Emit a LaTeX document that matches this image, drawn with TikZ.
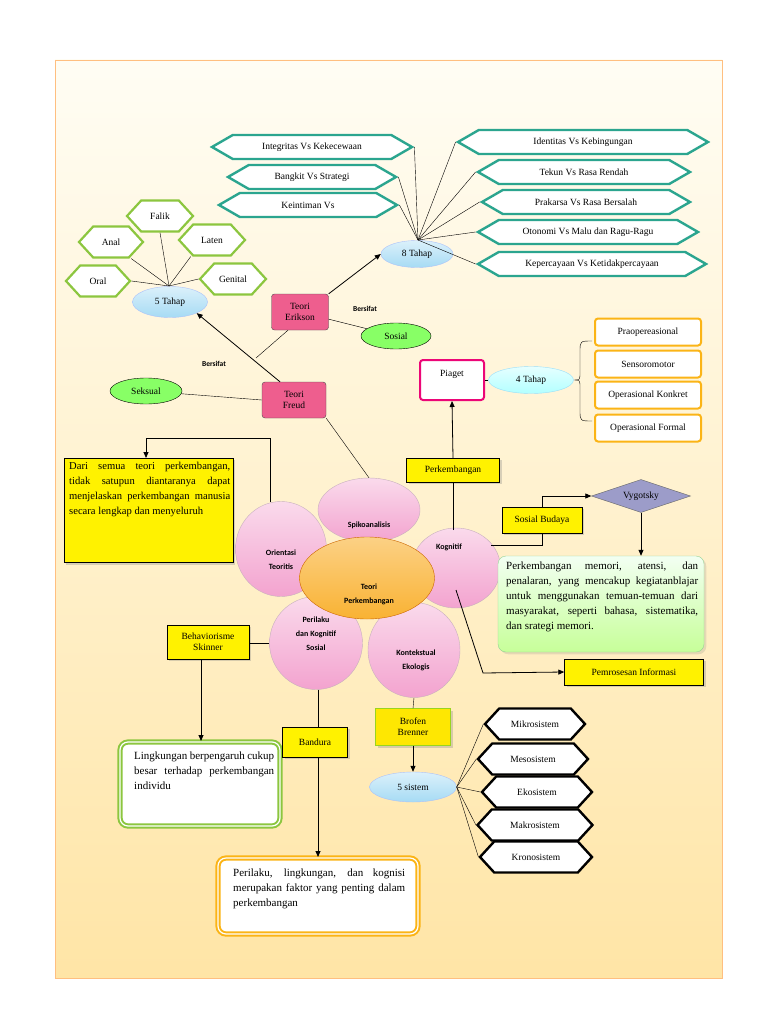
\documentclass[tikz,border=0pt]{standalone}
\usepackage{fontspec}
\setmainfont{Liberation Serif}
\newfontfamily\petalfont{Carlito}
\usetikzlibrary{shapes.geometric,shapes.symbols,arrows.meta,decorations.pathreplacing,shadows}
\definecolor{teal1}{HTML}{2BA58F}
\definecolor{grn1}{HTML}{8CC63F}
\definecolor{pinkbox}{HTML}{EE5E8E}
\definecolor{petal}{HTML}{F3A3CF}
\definecolor{orng}{HTML}{F9B233}
\definecolor{lblue}{HTML}{A6DBF4}
\definecolor{obox}{HTML}{FBB416}
\definecolor{bgtop}{HTML}{FFFDF4}
\definecolor{bgbot}{HTML}{FFE5A6}
\begin{document}
\lefthyphenmin=64 \righthyphenmin=64
\begin{tikzpicture}[x=1pt,y=-1pt,
  every node/.style={font=\fontsize{9.5}{11}\selectfont},
  hexT/.style={signal,signal to=east and west,signal pointer angle=60,draw=teal1,line width=2.4pt,fill=white,minimum height=24pt,inner sep=0},
  hexG/.style={signal,signal to=east and west,signal pointer angle=95,draw=grn1,line width=2.2pt,fill=white,minimum height=31pt,inner sep=0},
  hexK/.style={signal,signal to=east and west,signal pointer angle=95,draw=black,line width=2.4pt,fill=white,minimum height=31pt,inner sep=0},
  blueell/.style={ellipse,draw=lblue!70!blue!60,top color=lblue!40,bottom color=lblue,inner sep=0},
  greenell/.style={ellipse,draw=black,fill=green!70!lime!60,inner sep=0,minimum width=70pt,minimum height=26pt},
  pbox/.style={rectangle,rounded corners=3pt,draw=black!70,fill=pinkbox,align=center,minimum width=57pt,minimum height=36pt,inner sep=1pt},
  ybox/.style={rectangle,draw=black,fill=yellow,align=center,inner sep=1pt,drop shadow={opacity=0.3}},
  orbox/.style={rectangle,rounded corners=3pt,draw=obox,line width=2pt,fill=white,minimum width=106pt,minimum height=27pt},
  petalS/.style={ellipse,draw=petal!60!black!50,top color=petal!40,bottom color=petal,inner sep=0},
  ptxt/.style={font=\petalfont\bfseries\fontsize{8}{14}\selectfont,align=center},
  para/.style={font=\fontsize{11}{15}\selectfont,align=justify,inner sep=0},
  arr/.style={-{Triangle[length=6pt,width=5pt]},thick},
  ln/.style={black,thin}]
\useasboundingbox (0,0) rectangle (768,1024);
\fill[white] (0,0) rectangle (768,1024);
\shade[top color=bgtop,bottom color=bgbot,draw=orange!50] (55,60) rectangle (722,978);

% teal hexagons
\node[hexT,minimum width=200pt] (h1) at (312,147) {Integritas Vs Kekecewaan};
\node[hexT,minimum width=168pt] (h2) at (312,177) {Bangkit Vs Strategi};
\node[hexT,minimum width=178pt] (h3) at (308,205) {Keintiman Vs};
\node[hexT,minimum width=250pt] (h4) at (583,142) {Identitas Vs Kebingungan};
\node[hexT,minimum width=212pt] (h5) at (584,172) {Tekun Vs Rasa Rendah};
\node[hexT,minimum width=208pt] (h6) at (586,202) {Prakarsa Vs Rasa Bersalah};
\node[hexT,minimum width=220pt] (h7) at (588,232) {Otonomi Vs Malu dan Ragu-Ragu};
\node[hexT,minimum width=228pt] (h8) at (592,264) {Kepercayaan Vs Ketidakpercayaan};
\node[blueell,minimum width=72pt,minimum height=27pt] (t8) at (417,254) {8 Tahap};
\coordinate (hub8) at (418,240);
\foreach \h in {h1,h2,h3} \draw[ln] (hub8) -- (\h.east);
\foreach \h in {h4,h5,h6,h7,h8} \draw[ln] (hub8) -- (\h.west);

% green hexagons
\node[hexG,minimum width=66pt] (falik) at (160,216) {Falik};
\node[hexG,minimum width=64pt] (anal) at (111,242) {Anal};
\node[hexG,minimum width=66pt] (laten) at (212,240) {Laten};
\node[hexG,minimum width=64pt] (oral) at (98,281) {Oral};
\node[hexG,minimum width=66pt] (genital) at (233,279) {Genital};
\node[blueell,minimum width=75pt,minimum height=31pt] (t5) at (170,302) {5 Tahap};
\coordinate (hub5) at (169,286);
\draw[ln] (hub5) -- (falik.south);
\draw[ln] (hub5) -- ([xshift=2pt]anal.south east);
\draw[ln] (hub5) -- ([xshift=-2pt]laten.south west);
\draw[ln] (hub5) -- (oral.east);
\draw[ln] (hub5) -- (genital.west);

% Erikson / Freud
\node[pbox] (erik) at (300,312) {Teori\\Erikson};
\node[greenell] (sosial) at (396,336) {Sosial};
\node[font=\petalfont\bfseries\fontsize{7.5}{8}\selectfont] (b1) at (365,309) {Bersifat};
\draw[ln] (erik) -- (sosial);
\draw[arr] (erik.north east) -- (t8.west);
\node[pbox,minimum width=64pt] (freud) at (294,400) {Teori\\Freud};
\node[greenell,minimum width=72pt] (seks) at (146,391) {Seksual};
\node[font=\petalfont\bfseries\fontsize{7.5}{8}\selectfont] (b2) at (214,364) {Bersifat};
\draw[ln] (seks) -- (freud.west);
\draw[arr] ([xshift=-14pt]freud.north) -- (t5.south east);
\coordinate (jn) at (256,358);
\draw[ln] (jn) -- ([xshift=-12pt]erik.south);

% Piaget
\node[rectangle,rounded corners=3pt,draw=magenta!80!red,line width=2pt,fill=white,minimum width=64pt,minimum height=40pt,text depth=14pt] (piaget) at (452,380) {Piaget};
\node[ellipse,draw=cyan!40,top color=cyan!10,bottom color=cyan!30,minimum width=85pt,minimum height=27pt,inner sep=0] (t4) at (531,380) {4 Tahap};
\draw[ln] (piaget) -- (t4);
\node[orbox] (o1) at (648,332) {Praopereasional};
\node[orbox] (o2) at (648,364) {Sensoromotor};
\node[orbox] (o3) at (648,395) {Operasional Konkret};
\node[orbox] (o4) at (648,428) {Operasional Formal};
\draw[ln] (592,341) .. controls (580,341) .. (580,352) -- (580,372) .. controls (580,380) .. (574,380) .. controls (580,380) .. (580,388) -- (580,410) .. controls (580,421) .. (592,421);

% yellow text box
\node[ybox,anchor=north west,minimum width=169pt,minimum height=104pt,inner sep=0] (ytxt) at (64,458) {};
\node[para,font=\fontsize{10.6}{15}\selectfont,anchor=north west,text width=161pt] (ytxtt) at (69,462) {Dari semua teori perkembangan, tidak satupun diantaranya dapat menjelaskan perkembangan manusia secara lengkap dan menyeluruh};

% flower
\node[petalS,minimum width=102pt,minimum height=64pt] (spiko) at (369,510) {};
\node[petalS,minimum width=91pt,minimum height=95pt] (orient) at (281,549) {};
\node[petalS,minimum width=89pt,minimum height=80pt] (kog) at (456,568) {};
\node[petalS,minimum width=93pt,minimum height=93pt] (peri) at (316,643) {};
\node[petalS,minimum width=92pt,minimum height=95pt] (kont) at (414,650) {};
\node[ellipse,draw=orange!80!black,top color=orng!60,bottom color=orng,minimum width=135pt,minimum height=82pt,inner sep=0] (center) at (367,578) {};
\node[ptxt] (tspk) at (369,525) {Spikoanalisis};
\node[ptxt] (tori) at (281,560) {Orientasi\\Teoritis};
\node[ptxt] (tkog) at (449,547) {Kognitif};
\node[ptxt] (tper) at (316,634) {Perilaku\\dan Kognitif\\Sosial};
\node[ptxt] (tkon) at (416,660) {Kontekstual\\Ekologis};
\node[ptxt] (tcen) at (369,594) {Teori\\Perkembangan};

\draw[ln] (freud.south east) -- (spiko.north);
\coordinate (oc) at (270,502);
\coordinate (oc2) at (270,438);
\coordinate (oc3) at (146,438);
\draw[arr] (oc) -- (oc2) -- (oc3) -- (ytxt.north -| oc3);

% Kognitif connections
\node[ybox,minimum width=93pt,minimum height=24pt] (perk) at (453,470) {Perkembangan};
\coordinate (kt) at (453,530);
\draw[ln] (kt) -- (perk.south);
\draw[arr] (perk.north) -- (piaget.south);
\node[diamond,aspect=3,draw=black!60,fill=blue!30!gray!60!white,minimum width=99pt,minimum height=33pt,inner sep=0] (vyg) at (641,496) {Vygotsky};
\node[ybox,minimum width=80pt,minimum height=26pt] (sb) at (542,520) {Sosial Budaya};
\coordinate (kr) at (491,545);
\coordinate (kr2) at (542,545);
\draw[ln] (kr) -- (kr2) -- (sb.south);
\draw[arr] (sb.north) |- (vyg.west);
\node[rectangle,rounded corners=8pt,draw=green!40!gray!60,top color=green!5,bottom color=green!40!lime!40,minimum width=206pt,minimum height=96pt,drop shadow={opacity=0.2}] (gbox) at (601,604) {};
\node[para,anchor=north west,text width=192pt] (gboxt) at (506,562) {Perkembangan memori, atensi, dan penalaran, yang mencakup kegiatanblajar untuk menggunakan temuan-temuan dari masyarakat, seperti bahasa, sistematika, dan srategi memori.};
\draw[arr] (vyg.south) -- (gbox.north -| vyg.south);
\node[ybox,minimum width=139pt,minimum height=26pt] (pemr) at (634,672) {Pemrosesan Informasi};
\coordinate (kb) at (456,590);
\coordinate (kb2) at (483,673);
\draw[arr] (kb) -- (kb2) -- (pemr.west);

% Behaviorisme
\node[ybox,minimum width=82pt,minimum height=34pt] (beh) at (208,642) {Behaviorisme\\Skinner};
\draw[ln] (peri.west) -- (beh.east |- peri.west);
\node[rectangle,rounded corners=8pt,draw=grn1,line width=2pt,double=white,double distance=1.2pt,fill=white,minimum width=160pt,minimum height=84pt] (lbox) at (200,784) {};
\node[para,anchor=north west,text width=140pt] (lboxt) at (134,752) {Lingkungan berpengaruh cukup besar terhadap perkembangan individu};
\draw[arr] (beh.south -| 201,0) -- (lbox.north -| 201,0);

% Bandura
\node[ybox,minimum width=65pt,minimum height=30pt] (band) at (315,742) {Bandura};
\node[rectangle,rounded corners=8pt,draw=obox,line width=2pt,double=white,double distance=1.2pt,fill=white,minimum width=200pt,minimum height=76pt] (obx) at (318,896) {};
\node[para,anchor=north west,text width=172pt] (obxt) at (233,869) {Perilaku, lingkungan, dan kognisi merupakan faktor yang penting dalam perkembangan};
\draw[ln] (peri.south -| 318,0) -- (band.north -| 318,0);
\draw[arr] (band.south -| 318,0) -- (obx.north -| 318,0);

% Bronfenbrenner
\node[ybox,fill=yellow!90!orange,draw=yellow!60!green,minimum width=75pt,minimum height=37pt] (brof) at (413,727) {Brofen\\Brenner};
\node[blueell,minimum width=87pt,minimum height=30pt] (s5) at (413,787) {5 sistem};
\draw[ln] (kont.south) -- (brof.north);
\draw[arr] (brof.south) -- (s5.north);
\node[hexK,minimum width=100pt] (k1) at (535,724) {Mikrosistem};
\node[hexK,minimum width=110pt] (k2) at (533,759) {Mesosistem};
\node[hexK,minimum width=110pt] (k3) at (537,792) {Ekosistem};
\node[hexK,minimum width=115pt] (k4) at (535,825) {Makrosistem};
\node[hexK,minimum width=112pt] (k5) at (536,857) {Kronosistem};
\foreach \k in {k1,k2,k3,k4,k5} \draw[ln] (s5.east) -- (\k.west);
\end{tikzpicture}
\end{document}
